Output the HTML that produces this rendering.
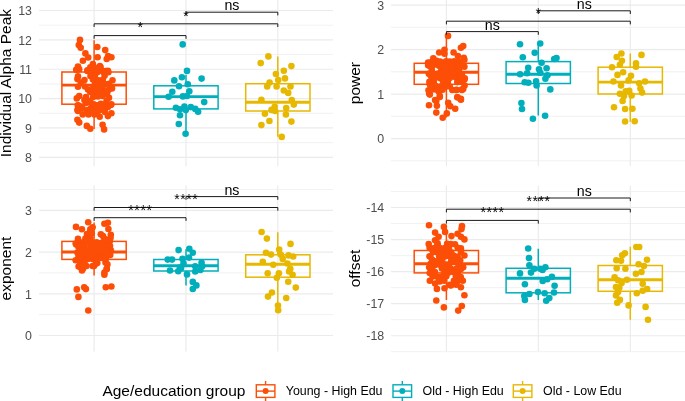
<!DOCTYPE html>
<html lang="en"><head><meta charset="utf-8"><title>Spectral parameters by age/education group</title>
<style>html,body{margin:0;padding:0;background:#fff}svg{display:block}text{font-family:"Liberation Sans", Arial, Helvetica, sans-serif}</style>
</head><body>
<svg width="685" height="401" viewBox="0 0 685 401">
<rect width="685" height="401" fill="#fff"/>
<g>
<path d="M39 142.6H333M39 113.3H333M39 83.9H333M39 54.5H333M39 25.2H333" stroke="#ebebeb" stroke-width="0.65" fill="none"/>
<path d="M39 157.3H333M39 127.9H333M39 98.6H333M39 69.2H333M39 39.9H333M39 10.5H333M94.1 0V166.2M186 0V166.2M277.8 0V166.2" stroke="#ebebeb" stroke-width="1.15" fill="none"/>
<text x="32" y="162" font-size="12.4" fill="#4d4d4d" text-anchor="end">8</text>
<text x="32" y="132.6" font-size="12.4" fill="#4d4d4d" text-anchor="end">9</text>
<text x="32" y="103.3" font-size="12.4" fill="#4d4d4d" text-anchor="end">10</text>
<text x="32" y="73.9" font-size="12.4" fill="#4d4d4d" text-anchor="end">11</text>
<text x="32" y="44.6" font-size="12.4" fill="#4d4d4d" text-anchor="end">12</text>
<text x="32" y="15.2" font-size="12.4" fill="#4d4d4d" text-anchor="end">13</text>
<text transform="translate(11.2 83.1) rotate(-90)" font-size="15.5" fill="#000" text-anchor="middle">Individual Alpha Peak</text>
<g stroke="#FC4E07" fill="none">
<path d="M94.1 40.3V72M94.1 104.2V129" stroke-width="1.5"/>
<rect x="61.9" y="72" width="64.3" height="32.2" stroke-width="1.5"/>
<path d="M61.9 85.1H126.2" stroke-width="2.9"/>
</g>
<g fill="#FC4E07">
<circle cx="80" cy="39.9" r="3.3"/><circle cx="78.8" cy="45" r="3.3"/><circle cx="80.7" cy="47.8" r="3.3"/><circle cx="97.3" cy="47" r="3.3"/><circle cx="105.2" cy="50.1" r="3.3"/><circle cx="85.4" cy="53.4" r="3.3"/><circle cx="88.2" cy="57.5" r="3.3"/><circle cx="97.6" cy="57.2" r="3.3"/><circle cx="108.1" cy="56" r="3.3"/><circle cx="111.4" cy="57.2" r="3.3"/><circle cx="106.7" cy="59" r="3.3"/><circle cx="82.9" cy="60.7" r="3.3"/><circle cx="92.9" cy="64" r="3.3"/><circle cx="99.9" cy="66.1" r="3.3"/><circle cx="78" cy="66.5" r="3.3"/><circle cx="76.2" cy="69.8" r="3.3"/><circle cx="79.2" cy="69.2" r="3.3"/><circle cx="87.4" cy="71" r="3.3"/><circle cx="92.6" cy="69.8" r="3.3"/><circle cx="100.8" cy="70.4" r="3.3"/><circle cx="105.5" cy="71" r="3.3"/><circle cx="108.4" cy="72.2" r="3.3"/><circle cx="78" cy="76.3" r="3.3"/><circle cx="76.8" cy="69.7" r="3.3"/><circle cx="87.4" cy="70.3" r="3.3"/><circle cx="107.9" cy="70.9" r="3.3"/><circle cx="77.4" cy="79.1" r="3.3"/><circle cx="80.9" cy="82.6" r="3.3"/><circle cx="78" cy="86.7" r="3.3"/><circle cx="112.5" cy="80.2" r="3.3"/><circle cx="109" cy="83.7" r="3.3"/><circle cx="112" cy="88.4" r="3.3"/><circle cx="88" cy="89.6" r="3.3"/><circle cx="79.2" cy="96" r="3.3"/><circle cx="76.8" cy="98.4" r="3.3"/><circle cx="109" cy="97.8" r="3.3"/><circle cx="84.4" cy="100.1" r="3.3"/><circle cx="111.4" cy="104.2" r="3.3"/><circle cx="78" cy="105.4" r="3.3"/><circle cx="81.5" cy="108.3" r="3.3"/><circle cx="77.4" cy="110" r="3.3"/><circle cx="107.9" cy="107" r="3.3"/><circle cx="78" cy="105.6" r="3.3"/><circle cx="82.1" cy="106.8" r="3.3"/><circle cx="78" cy="110.9" r="3.3"/><circle cx="82.7" cy="114.4" r="3.3"/><circle cx="88.5" cy="114.4" r="3.3"/><circle cx="94.4" cy="114.4" r="3.3"/><circle cx="99.7" cy="116.7" r="3.3"/><circle cx="111.4" cy="113.2" r="3.3"/><circle cx="107.9" cy="116.1" r="3.3"/><circle cx="110.8" cy="105" r="3.3"/><circle cx="106.7" cy="106.8" r="3.3"/><circle cx="77.4" cy="119.7" r="3.3"/><circle cx="79.2" cy="122.6" r="3.3"/><circle cx="86.8" cy="125.9" r="3.3"/><circle cx="90.3" cy="128.7" r="3.3"/><circle cx="102.6" cy="124.7" r="3.3"/><circle cx="104.1" cy="129.4" r="3.3"/><circle cx="89.1" cy="101.5" r="3.3"/><circle cx="95" cy="105" r="3.3"/><circle cx="100.8" cy="103.9" r="3.3"/><circle cx="96.2" cy="109.7" r="3.3"/><circle cx="91.5" cy="107.4" r="3.3"/><circle cx="100.8" cy="109.7" r="3.3"/><circle cx="104.4" cy="106.2" r="3.3"/><circle cx="85" cy="86.5" r="3.3"/><circle cx="84.5" cy="80" r="3.3"/><circle cx="108.5" cy="90" r="3.3"/><circle cx="107" cy="94" r="3.3"/><circle cx="86" cy="97" r="3.3"/><circle cx="86" cy="103" r="3.3"/><circle cx="106.5" cy="101" r="3.3"/><circle cx="87" cy="110" r="3.3"/><circle cx="105" cy="112" r="3.3"/><circle cx="90.3" cy="67.4" r="3.3"/><circle cx="96" cy="68" r="3.3"/><circle cx="100.6" cy="67.4" r="3.3"/><circle cx="93.8" cy="71.5" r="3.3"/><circle cx="97.2" cy="72.2" r="3.3"/><circle cx="103.2" cy="72" r="3.3"/><circle cx="90.5" cy="76.1" r="3.3"/><circle cx="94.9" cy="75.8" r="3.3"/><circle cx="104.6" cy="75.8" r="3.3"/><circle cx="92.9" cy="79.6" r="3.3"/><circle cx="98.4" cy="80.4" r="3.3"/><circle cx="102.8" cy="79.8" r="3.3"/><circle cx="95" cy="84.1" r="3.3"/><circle cx="100.6" cy="84.6" r="3.3"/><circle cx="105.6" cy="84.2" r="3.3"/><circle cx="92.9" cy="88.5" r="3.3"/><circle cx="98.4" cy="88.9" r="3.3"/><circle cx="102.6" cy="88.5" r="3.3"/><circle cx="90.2" cy="92.1" r="3.3"/><circle cx="96" cy="92.4" r="3.3"/><circle cx="99.8" cy="92.6" r="3.3"/><circle cx="105.2" cy="92.7" r="3.3"/><circle cx="93.2" cy="97" r="3.3"/><circle cx="97.9" cy="96.4" r="3.3"/><circle cx="102.6" cy="95.9" r="3.3"/><circle cx="90.2" cy="100.9" r="3.3"/><circle cx="93.7" cy="104.3" r="3.3"/><circle cx="97.9" cy="105.3" r="3.3"/><circle cx="102.7" cy="104.6" r="3.3"/><circle cx="90.5" cy="108.8" r="3.3"/><circle cx="96.2" cy="108.1" r="3.3"/><circle cx="100.6" cy="109.2" r="3.3"/><circle cx="93.3" cy="112.7" r="3.3"/><circle cx="97.3" cy="113.4" r="3.3"/>
</g>
<g stroke="#00AFBB" fill="none">
<path d="M186 74.8V85.8M186 108.9V133.7" stroke-width="1.5"/>
<rect x="153.8" y="85.8" width="64.3" height="23.1" stroke-width="1.5"/>
<path d="M153.8 96.6H218.1" stroke-width="2.9"/>
</g>
<g fill="#00AFBB">
<circle cx="182.7" cy="44.4" r="3.3"/><circle cx="187" cy="70.9" r="3.3"/><circle cx="181.9" cy="77.2" r="3.3"/><circle cx="201.6" cy="78.6" r="3.3"/><circle cx="174.3" cy="80.4" r="3.3"/><circle cx="187.8" cy="84.3" r="3.3"/><circle cx="179" cy="86.3" r="3.3"/><circle cx="172.3" cy="91.7" r="3.3"/><circle cx="189.3" cy="91.3" r="3.3"/><circle cx="168.6" cy="96.8" r="3.3"/><circle cx="182.9" cy="96.4" r="3.3"/><circle cx="187" cy="96" r="3.3"/><circle cx="204.2" cy="102.1" r="3.3"/><circle cx="175.9" cy="107.7" r="3.3"/><circle cx="180" cy="109.2" r="3.3"/><circle cx="184.4" cy="106.5" r="3.3"/><circle cx="185.8" cy="110.1" r="3.3"/><circle cx="190.8" cy="107.1" r="3.3"/><circle cx="195.2" cy="108.9" r="3.3"/><circle cx="198.1" cy="111.8" r="3.3"/><circle cx="180" cy="115.3" r="3.3"/><circle cx="178.8" cy="124" r="3.3"/><circle cx="185.6" cy="133.7" r="3.3"/>
</g>
<g stroke="#E7B800" fill="none">
<path d="M277.8 56.4V83.7M277.8 111V136.8" stroke-width="1.5"/>
<rect x="245.7" y="83.7" width="64.3" height="27.3" stroke-width="1.5"/>
<path d="M245.7 102.2H309.9" stroke-width="2.9"/>
</g>
<g fill="#E7B800">
<circle cx="268.4" cy="56.4" r="3.3"/><circle cx="260.7" cy="63.1" r="3.3"/><circle cx="291.4" cy="66.1" r="3.3"/><circle cx="283.8" cy="70.8" r="3.3"/><circle cx="275.9" cy="74" r="3.3"/><circle cx="285" cy="78.4" r="3.3"/><circle cx="278.2" cy="80.1" r="3.3"/><circle cx="269.6" cy="82.5" r="3.3"/><circle cx="267.2" cy="86.5" r="3.3"/><circle cx="276.6" cy="86.5" r="3.3"/><circle cx="290.5" cy="86.5" r="3.3"/><circle cx="283.8" cy="90.5" r="3.3"/><circle cx="288.2" cy="92.9" r="3.3"/><circle cx="261.4" cy="99.9" r="3.3"/><circle cx="291.8" cy="100.1" r="3.3"/><circle cx="293.8" cy="104.6" r="3.3"/><circle cx="274.7" cy="106.7" r="3.3"/><circle cx="271.5" cy="109.9" r="3.3"/><circle cx="275.1" cy="111" r="3.3"/><circle cx="286.2" cy="108.1" r="3.3"/><circle cx="264.9" cy="113.7" r="3.3"/><circle cx="285.9" cy="114.5" r="3.3"/><circle cx="269.4" cy="121" r="3.3"/><circle cx="291.4" cy="121.6" r="3.3"/><circle cx="261.4" cy="125.1" r="3.3"/><circle cx="281.7" cy="136.9" r="3.3"/>
</g>
<path d="M186 15.4V12.2H277.8V15.4" stroke="#1a1a1a" stroke-width="1" fill="none"/>
<text x="231.9" y="10.3" font-size="14.2" fill="#000" text-anchor="middle">ns</text>
<path d="M94.1 27V23.8H277.8V27" stroke="#1a1a1a" stroke-width="1" fill="none"/>
<text x="186.2" y="20.6" font-size="14" letter-spacing="0.58" fill="#000" text-anchor="middle">*</text>
<path d="M94.1 38.8V35.6H186V38.8" stroke="#1a1a1a" stroke-width="1" fill="none"/>
<text x="140.4" y="32.4" font-size="14" letter-spacing="0.58" fill="#000" text-anchor="middle">*</text>
</g>
<g>
<path d="M391 160.8H685M391 116.3H685M391 71.8H685M391 27.3H685" stroke="#ebebeb" stroke-width="0.65" fill="none"/>
<path d="M391 138.6H685M391 94.1H685M391 49.6H685M391 5.1H685M446.4 0V166.2M538.3 0V166.2M630.3 0V166.2" stroke="#ebebeb" stroke-width="1.15" fill="none"/>
<text x="384.2" y="143.3" font-size="12.4" fill="#4d4d4d" text-anchor="end">0</text>
<text x="384.2" y="98.8" font-size="12.4" fill="#4d4d4d" text-anchor="end">1</text>
<text x="384.2" y="54.3" font-size="12.4" fill="#4d4d4d" text-anchor="end">2</text>
<text x="384.2" y="9.8" font-size="12.4" fill="#4d4d4d" text-anchor="end">3</text>
<text transform="translate(359.6 83.1) rotate(-90)" font-size="15.5" fill="#000" text-anchor="middle">power</text>
<g stroke="#FC4E07" fill="none">
<path d="M446.4 36V63.3M446.4 84.3V117.5" stroke-width="1.5"/>
<rect x="414.2" y="63.3" width="64.3" height="21" stroke-width="1.5"/>
<path d="M414.2 72.3H478.6" stroke-width="2.9"/>
</g>
<g fill="#FC4E07">
<circle cx="448" cy="35.9" r="3.3"/><circle cx="463.2" cy="46.1" r="3.3"/><circle cx="460.9" cy="47.8" r="3.3"/><circle cx="444.5" cy="49.8" r="3.3"/><circle cx="439.2" cy="52.5" r="3.3"/><circle cx="453.6" cy="52.5" r="3.3"/><circle cx="433.3" cy="58.4" r="3.3"/><circle cx="463.8" cy="57.8" r="3.3"/><circle cx="457.9" cy="56" r="3.3"/><circle cx="428.1" cy="62.5" r="3.3"/><circle cx="444.5" cy="53.7" r="3.3"/><circle cx="428.1" cy="65" r="3.3"/><circle cx="430.4" cy="74.9" r="3.3"/><circle cx="429.8" cy="84.3" r="3.3"/><circle cx="429.2" cy="93.6" r="3.3"/><circle cx="438.6" cy="91.3" r="3.3"/><circle cx="439.8" cy="96" r="3.3"/><circle cx="464.4" cy="79.6" r="3.3"/><circle cx="463.2" cy="89" r="3.3"/><circle cx="457.4" cy="97.2" r="3.3"/><circle cx="460.9" cy="98.9" r="3.3"/><circle cx="435.1" cy="100.1" r="3.3"/><circle cx="464.4" cy="59.7" r="3.3"/><circle cx="464.4" cy="66.7" r="3.3"/><circle cx="429.8" cy="94.6" r="3.3"/><circle cx="439.2" cy="91.7" r="3.3"/><circle cx="439.8" cy="97" r="3.3"/><circle cx="457.4" cy="97.3" r="3.3"/><circle cx="460.9" cy="99.7" r="3.3"/><circle cx="462" cy="90" r="3.3"/><circle cx="456.2" cy="90" r="3.3"/><circle cx="436.3" cy="101.1" r="3.3"/><circle cx="429" cy="105.2" r="3.3"/><circle cx="436.9" cy="105.8" r="3.3"/><circle cx="448.2" cy="102.8" r="3.3"/><circle cx="450.3" cy="106.3" r="3.3"/><circle cx="455.2" cy="108.7" r="3.3"/><circle cx="436.3" cy="112.6" r="3.3"/><circle cx="446.8" cy="113.4" r="3.3"/><circle cx="442.7" cy="117.7" r="3.3"/><circle cx="431" cy="62.2" r="3.3"/><circle cx="436.6" cy="60.9" r="3.3"/><circle cx="440.1" cy="61.6" r="3.3"/><circle cx="446.1" cy="61.4" r="3.3"/><circle cx="449.8" cy="61.5" r="3.3"/><circle cx="454.2" cy="61.2" r="3.3"/><circle cx="459.5" cy="61.6" r="3.3"/><circle cx="428.6" cy="65.6" r="3.3"/><circle cx="433.4" cy="65" r="3.3"/><circle cx="438.9" cy="65.7" r="3.3"/><circle cx="443.3" cy="65.2" r="3.3"/><circle cx="448.5" cy="66.1" r="3.3"/><circle cx="452" cy="65.4" r="3.3"/><circle cx="457.5" cy="65.9" r="3.3"/><circle cx="462.5" cy="65.5" r="3.3"/><circle cx="431.8" cy="69.9" r="3.3"/><circle cx="441.3" cy="70.2" r="3.3"/><circle cx="445.5" cy="69.8" r="3.3"/><circle cx="449.5" cy="69.4" r="3.3"/><circle cx="455.3" cy="69.6" r="3.3"/><circle cx="459.1" cy="69.8" r="3.3"/><circle cx="428.8" cy="73.7" r="3.3"/><circle cx="433.7" cy="74.2" r="3.3"/><circle cx="438.4" cy="73.6" r="3.3"/><circle cx="443.1" cy="73.1" r="3.3"/><circle cx="447.2" cy="74.1" r="3.3"/><circle cx="453.2" cy="73.9" r="3.3"/><circle cx="457.1" cy="73.3" r="3.3"/><circle cx="461.9" cy="74.5" r="3.3"/><circle cx="431.7" cy="77.9" r="3.3"/><circle cx="436.6" cy="77.5" r="3.3"/><circle cx="440.8" cy="78.5" r="3.3"/><circle cx="445.6" cy="77.8" r="3.3"/><circle cx="449.8" cy="77.9" r="3.3"/><circle cx="455.5" cy="77.2" r="3.3"/><circle cx="459.9" cy="78.3" r="3.3"/><circle cx="464.8" cy="78.2" r="3.3"/><circle cx="429.4" cy="81.9" r="3.3"/><circle cx="433.8" cy="81.8" r="3.3"/><circle cx="443.2" cy="81.5" r="3.3"/><circle cx="447.8" cy="81.9" r="3.3"/><circle cx="457.3" cy="82.1" r="3.3"/><circle cx="462.1" cy="81.9" r="3.3"/><circle cx="430.7" cy="85.6" r="3.3"/><circle cx="435.6" cy="86.1" r="3.3"/><circle cx="441.3" cy="86.4" r="3.3"/><circle cx="445.9" cy="86.4" r="3.3"/><circle cx="449.8" cy="86.5" r="3.3"/><circle cx="464.6" cy="85.6" r="3.3"/><circle cx="428.5" cy="90.2" r="3.3"/><circle cx="433.5" cy="89.5" r="3.3"/><circle cx="437.9" cy="90.1" r="3.3"/><circle cx="442.6" cy="89.7" r="3.3"/><circle cx="452.3" cy="90" r="3.3"/><circle cx="456.5" cy="89.9" r="3.3"/><circle cx="461.8" cy="89.6" r="3.3"/>
</g>
<g stroke="#00AFBB" fill="none">
<path d="M538.3 43.3V61.6M538.3 83.5V115.5" stroke-width="1.5"/>
<rect x="506.1" y="61.6" width="64.3" height="21.9" stroke-width="1.5"/>
<path d="M506.1 74.3H570.4" stroke-width="2.9"/>
</g>
<g fill="#00AFBB">
<circle cx="520" cy="44.3" r="3.3"/><circle cx="540.2" cy="43.5" r="3.3"/><circle cx="534.7" cy="52.8" r="3.3"/><circle cx="522.8" cy="57.2" r="3.3"/><circle cx="556.5" cy="58.1" r="3.3"/><circle cx="554.2" cy="59" r="3.3"/><circle cx="541.6" cy="62.8" r="3.3"/><circle cx="528.2" cy="67.7" r="3.3"/><circle cx="539" cy="69.3" r="3.3"/><circle cx="546.6" cy="68.2" r="3.3"/><circle cx="520.1" cy="74.3" r="3.3"/><circle cx="527.1" cy="73.3" r="3.3"/><circle cx="540.3" cy="72.8" r="3.3"/><circle cx="547.5" cy="75.2" r="3.3"/><circle cx="545.4" cy="78.8" r="3.3"/><circle cx="524.7" cy="82.3" r="3.3"/><circle cx="528.4" cy="82.8" r="3.3"/><circle cx="536.1" cy="81.4" r="3.3"/><circle cx="536.6" cy="85.5" r="3.3"/><circle cx="550.3" cy="89.4" r="3.3"/><circle cx="521.4" cy="103" r="3.3"/><circle cx="522" cy="109" r="3.3"/><circle cx="532.9" cy="118.7" r="3.3"/><circle cx="545.1" cy="115.8" r="3.3"/>
</g>
<g stroke="#E7B800" fill="none">
<path d="M630.3 53.5V67.2M630.3 94V121.7" stroke-width="1.5"/>
<rect x="598.1" y="67.2" width="64.3" height="26.8" stroke-width="1.5"/>
<path d="M598.1 82.1H662.4" stroke-width="2.9"/>
</g>
<g fill="#E7B800">
<circle cx="621.4" cy="53.5" r="3.3"/><circle cx="616.7" cy="57" r="3.3"/><circle cx="641.5" cy="54.9" r="3.3"/><circle cx="621.9" cy="60.8" r="3.3"/><circle cx="619.9" cy="64.8" r="3.3"/><circle cx="636" cy="63.4" r="3.3"/><circle cx="636" cy="66.7" r="3.3"/><circle cx="612" cy="67.2" r="3.3"/><circle cx="623.1" cy="72.2" r="3.3"/><circle cx="617.5" cy="74.9" r="3.3"/><circle cx="631" cy="75.7" r="3.3"/><circle cx="613.4" cy="81.5" r="3.3"/><circle cx="628.6" cy="80.4" r="3.3"/><circle cx="645" cy="81.5" r="3.3"/><circle cx="639.2" cy="83.2" r="3.3"/><circle cx="621" cy="85.5" r="3.3"/><circle cx="640.4" cy="88.5" r="3.3"/><circle cx="642.1" cy="92.6" r="3.3"/><circle cx="625.7" cy="91.4" r="3.3"/><circle cx="629.2" cy="90.8" r="3.3"/><circle cx="619.9" cy="93.7" r="3.3"/><circle cx="624" cy="96.1" r="3.3"/><circle cx="631.6" cy="95.5" r="3.3"/><circle cx="622.6" cy="101" r="3.3"/><circle cx="614" cy="107.2" r="3.3"/><circle cx="625.1" cy="109" r="3.3"/><circle cx="632.4" cy="108.7" r="3.3"/><circle cx="625.1" cy="121.5" r="3.3"/><circle cx="634.7" cy="121.3" r="3.3"/>
</g>
<path d="M538.3 14V10.8H630.3V14" stroke="#1a1a1a" stroke-width="1" fill="none"/>
<text x="584.3" y="8.9" font-size="14.2" fill="#000" text-anchor="middle">ns</text>
<path d="M446.4 24.4V21.2H630.3V24.4" stroke="#1a1a1a" stroke-width="1" fill="none"/>
<text x="538.6" y="18" font-size="14" letter-spacing="0.58" fill="#000" text-anchor="middle">*</text>
<path d="M446.4 34.8V31.6H538.3V34.8" stroke="#1a1a1a" stroke-width="1" fill="none"/>
<text x="492.3" y="29.7" font-size="14.2" fill="#000" text-anchor="middle">ns</text>
</g>
<g>
<path d="M39 314.6H333M39 272.9H333M39 231.2H333M39 189.5H333" stroke="#ebebeb" stroke-width="0.65" fill="none"/>
<path d="M39 335.5H333M39 293.8H333M39 252.1H333M39 210.4H333M94.1 185.4V351.6M186 185.4V351.6M277.8 185.4V351.6" stroke="#ebebeb" stroke-width="1.15" fill="none"/>
<text x="32" y="340.2" font-size="12.4" fill="#4d4d4d" text-anchor="end">0</text>
<text x="32" y="298.5" font-size="12.4" fill="#4d4d4d" text-anchor="end">1</text>
<text x="32" y="256.8" font-size="12.4" fill="#4d4d4d" text-anchor="end">2</text>
<text x="32" y="215.1" font-size="12.4" fill="#4d4d4d" text-anchor="end">3</text>
<text transform="translate(11.2 268.5) rotate(-90)" font-size="15.5" fill="#000" text-anchor="middle">exponent</text>
<g stroke="#FC4E07" fill="none">
<path d="M94.1 222.5V241.4M94.1 259.4V275.5" stroke-width="1.5"/>
<rect x="61.9" y="241.4" width="64.3" height="18" stroke-width="1.5"/>
<path d="M61.9 252H126.2" stroke-width="2.9"/>
</g>
<g fill="#FC4E07">
<circle cx="88.2" cy="222.3" r="3.3"/><circle cx="76" cy="226.9" r="3.3"/><circle cx="81.9" cy="229.3" r="3.3"/><circle cx="107.9" cy="222.8" r="3.3"/><circle cx="104.4" cy="223.7" r="3.3"/><circle cx="108.4" cy="229" r="3.3"/><circle cx="100.8" cy="234.2" r="3.3"/><circle cx="110.8" cy="234.8" r="3.3"/><circle cx="92.6" cy="227.2" r="3.3"/><circle cx="90.3" cy="231.3" r="3.3"/><circle cx="78" cy="238.9" r="3.3"/><circle cx="75.7" cy="243.6" r="3.3"/><circle cx="109.6" cy="241.3" r="3.3"/><circle cx="76.2" cy="244.4" r="3.3"/><circle cx="77.4" cy="252.6" r="3.3"/><circle cx="75.7" cy="260.2" r="3.3"/><circle cx="78.6" cy="266.6" r="3.3"/><circle cx="82.7" cy="269" r="3.3"/><circle cx="92.6" cy="266" r="3.3"/><circle cx="97.3" cy="263.1" r="3.3"/><circle cx="105.5" cy="262.5" r="3.3"/><circle cx="106.7" cy="269" r="3.3"/><circle cx="104.4" cy="274.8" r="3.3"/><circle cx="110.8" cy="250.2" r="3.3"/><circle cx="110.2" cy="254.9" r="3.3"/><circle cx="109.6" cy="240.9" r="3.3"/><circle cx="76.8" cy="289.4" r="3.3"/><circle cx="84.2" cy="287.3" r="3.3"/><circle cx="85.9" cy="289.1" r="3.3"/><circle cx="105.8" cy="287.3" r="3.3"/><circle cx="111.4" cy="286.5" r="3.3"/><circle cx="78.4" cy="296.9" r="3.3"/><circle cx="88.3" cy="310.5" r="3.3"/><circle cx="78.5" cy="247" r="3.3"/><circle cx="78.5" cy="256" r="3.3"/><circle cx="80" cy="251" r="3.3"/><circle cx="79.5" cy="260" r="3.3"/><circle cx="81" cy="243" r="3.3"/><circle cx="83.5" cy="267.5" r="3.3"/><circle cx="80" cy="265" r="3.3"/><circle cx="82" cy="270.5" r="3.3"/><circle cx="86.5" cy="266" r="3.3"/><circle cx="106" cy="258.5" r="3.3"/><circle cx="107.4" cy="264.4" r="3.3"/><circle cx="106.7" cy="269" r="3.3"/><circle cx="104.4" cy="272.6" r="3.3"/><circle cx="110" cy="246" r="3.3"/><circle cx="110.5" cy="238" r="3.3"/><circle cx="106" cy="240" r="3.3"/><circle cx="103" cy="236" r="3.3"/><circle cx="94" cy="266" r="3.3"/><circle cx="96" cy="263.5" r="3.3"/><circle cx="90.3" cy="229.4" r="3.3"/><circle cx="87" cy="234.1" r="3.3"/><circle cx="91.8" cy="233.5" r="3.3"/><circle cx="85.4" cy="238.5" r="3.3"/><circle cx="90.4" cy="238.1" r="3.3"/><circle cx="104.4" cy="238.7" r="3.3"/><circle cx="83.1" cy="242.2" r="3.3"/><circle cx="86.9" cy="242.3" r="3.3"/><circle cx="92.4" cy="242.5" r="3.3"/><circle cx="96.6" cy="242.2" r="3.3"/><circle cx="101.5" cy="242.7" r="3.3"/><circle cx="106.2" cy="242.1" r="3.3"/><circle cx="80.3" cy="245.7" r="3.3"/><circle cx="84.4" cy="246.6" r="3.3"/><circle cx="90.4" cy="246.5" r="3.3"/><circle cx="94.3" cy="245.9" r="3.3"/><circle cx="99.2" cy="247" r="3.3"/><circle cx="104.2" cy="246.4" r="3.3"/><circle cx="109.1" cy="246" r="3.3"/><circle cx="82.8" cy="250.4" r="3.3"/><circle cx="87.1" cy="250.5" r="3.3"/><circle cx="92.7" cy="249.7" r="3.3"/><circle cx="97.2" cy="250.9" r="3.3"/><circle cx="102" cy="250.8" r="3.3"/><circle cx="106.6" cy="250.4" r="3.3"/><circle cx="80.4" cy="254.4" r="3.3"/><circle cx="84.4" cy="255" r="3.3"/><circle cx="89.8" cy="254.1" r="3.3"/><circle cx="94.5" cy="254.5" r="3.3"/><circle cx="98.9" cy="254.3" r="3.3"/><circle cx="103.9" cy="254.7" r="3.3"/><circle cx="108.7" cy="254.4" r="3.3"/><circle cx="82.2" cy="258.7" r="3.3"/><circle cx="87.9" cy="259" r="3.3"/><circle cx="92.5" cy="259" r="3.3"/><circle cx="96.5" cy="259" r="3.3"/><circle cx="101.7" cy="258" r="3.3"/><circle cx="105.5" cy="257.9" r="3.3"/><circle cx="84.5" cy="262.8" r="3.3"/>
</g>
<g stroke="#00AFBB" fill="none">
<path d="M186 249.3V259.5M186 271V285.4" stroke-width="1.5"/>
<rect x="153.8" y="259.5" width="64.3" height="11.5" stroke-width="1.5"/>
<path d="M153.8 265.7H218.1" stroke-width="2.9"/>
</g>
<g fill="#00AFBB">
<circle cx="178.6" cy="250.1" r="3.3"/><circle cx="189.3" cy="248.7" r="3.3"/><circle cx="192.8" cy="252.8" r="3.3"/><circle cx="189" cy="257.6" r="3.3"/><circle cx="167.7" cy="259.6" r="3.3"/><circle cx="172" cy="259.6" r="3.3"/><circle cx="182.5" cy="258.7" r="3.3"/><circle cx="183.5" cy="263.4" r="3.3"/><circle cx="201.6" cy="262.8" r="3.3"/><circle cx="202.2" cy="266.3" r="3.3"/><circle cx="180" cy="267.5" r="3.3"/><circle cx="170" cy="270.5" r="3.3"/><circle cx="178.2" cy="271.2" r="3.3"/><circle cx="195.2" cy="271.5" r="3.3"/><circle cx="200.4" cy="270" r="3.3"/><circle cx="187" cy="274.4" r="3.3"/><circle cx="195.2" cy="266.3" r="3.3"/><circle cx="181.1" cy="267.9" r="3.3"/><circle cx="192.8" cy="281.9" r="3.3"/><circle cx="196.4" cy="285.4" r="3.3"/><circle cx="192.8" cy="289" r="3.3"/>
</g>
<g stroke="#E7B800" fill="none">
<path d="M277.8 232.3V254.8M277.8 277.2V305.5" stroke-width="1.5"/>
<rect x="245.7" y="254.8" width="64.3" height="22.4" stroke-width="1.5"/>
<path d="M245.7 264.3H309.9" stroke-width="2.9"/>
</g>
<g fill="#E7B800">
<circle cx="261.6" cy="232" r="3.3"/><circle cx="266.9" cy="238.6" r="3.3"/><circle cx="290.5" cy="243.9" r="3.3"/><circle cx="279.2" cy="249.5" r="3.3"/><circle cx="266" cy="252.7" r="3.3"/><circle cx="271" cy="254.6" r="3.3"/><circle cx="280.9" cy="254.8" r="3.3"/><circle cx="288.5" cy="255.4" r="3.3"/><circle cx="293.2" cy="256.5" r="3.3"/><circle cx="282.7" cy="258.9" r="3.3"/><circle cx="262.8" cy="261.8" r="3.3"/><circle cx="273.3" cy="264.7" r="3.3"/><circle cx="287.4" cy="263.5" r="3.3"/><circle cx="290.3" cy="268.8" r="3.3"/><circle cx="267.7" cy="273.2" r="3.3"/><circle cx="278.9" cy="273.2" r="3.3"/><circle cx="276.8" cy="277.8" r="3.3"/><circle cx="289.1" cy="271.4" r="3.3"/><circle cx="292.6" cy="274.7" r="3.3"/><circle cx="288.2" cy="281.7" r="3.3"/><circle cx="295.8" cy="287.6" r="3.3"/><circle cx="271.9" cy="292.5" r="3.3"/><circle cx="268" cy="296.6" r="3.3"/><circle cx="286.2" cy="298" r="3.3"/><circle cx="278" cy="305.5" r="3.3"/><circle cx="278.2" cy="310.2" r="3.3"/>
</g>
<path d="M186 199.8V196.6H277.8V199.8" stroke="#1a1a1a" stroke-width="1" fill="none"/>
<text x="231.9" y="194.7" font-size="14.2" fill="#000" text-anchor="middle">ns</text>
<path d="M94.1 210.7V207.5H277.8V210.7" stroke="#1a1a1a" stroke-width="1" fill="none"/>
<text x="186.2" y="204.3" font-size="14" letter-spacing="0.58" fill="#000" text-anchor="middle">****</text>
<path d="M94.1 220.9V217.7H186V220.9" stroke="#1a1a1a" stroke-width="1" fill="none"/>
<text x="140.4" y="214.5" font-size="14" letter-spacing="0.58" fill="#000" text-anchor="middle">****</text>
</g>
<g>
<path d="M391 351.7H685M391 319.7H685M391 287.6H685M391 255.6H685M391 223.5H685M391 191.5H685" stroke="#ebebeb" stroke-width="0.65" fill="none"/>
<path d="M391 335.7H685M391 303.6H685M391 271.6H685M391 239.6H685M391 207.5H685M446.4 185.4V351.6M538.3 185.4V351.6M630.3 185.4V351.6" stroke="#ebebeb" stroke-width="1.15" fill="none"/>
<text x="384.2" y="340.4" font-size="12.4" fill="#4d4d4d" text-anchor="end">-18</text>
<text x="384.2" y="308.3" font-size="12.4" fill="#4d4d4d" text-anchor="end">-17</text>
<text x="384.2" y="276.3" font-size="12.4" fill="#4d4d4d" text-anchor="end">-16</text>
<text x="384.2" y="244.2" font-size="12.4" fill="#4d4d4d" text-anchor="end">-15</text>
<text x="384.2" y="212.2" font-size="12.4" fill="#4d4d4d" text-anchor="end">-14</text>
<text transform="translate(359.6 268.5) rotate(-90)" font-size="15.5" fill="#000" text-anchor="middle">offset</text>
<g stroke="#FC4E07" fill="none">
<path d="M446.4 229V250.5M446.4 272.9V300.1" stroke-width="1.5"/>
<rect x="414.2" y="250.5" width="64.3" height="22.4" stroke-width="1.5"/>
<path d="M414.2 263.7H478.6" stroke-width="2.9"/>
</g>
<g fill="#FC4E07">
<circle cx="429" cy="225.2" r="3.3"/><circle cx="443.9" cy="226.9" r="3.3"/><circle cx="462" cy="226.1" r="3.3"/><circle cx="461.5" cy="229.1" r="3.3"/><circle cx="435.1" cy="232.6" r="3.3"/><circle cx="445.1" cy="232" r="3.3"/><circle cx="457.6" cy="233.7" r="3.3"/><circle cx="451.5" cy="236.1" r="3.3"/><circle cx="438.6" cy="236.7" r="3.3"/><circle cx="460.9" cy="236.7" r="3.3"/><circle cx="464.4" cy="239.4" r="3.3"/><circle cx="435.1" cy="240.2" r="3.3"/><circle cx="428.7" cy="244" r="3.3"/><circle cx="455" cy="244.3" r="3.3"/><circle cx="460.9" cy="248.4" r="3.3"/><circle cx="437.4" cy="245.4" r="3.3"/><circle cx="444.5" cy="248.4" r="3.3"/><circle cx="431.6" cy="249" r="3.3"/><circle cx="429.8" cy="280.7" r="3.3"/><circle cx="435.1" cy="283.6" r="3.3"/><circle cx="436.9" cy="288.9" r="3.3"/><circle cx="444.5" cy="288.3" r="3.3"/><circle cx="460.9" cy="287.2" r="3.3"/><circle cx="460.9" cy="279" r="3.3"/><circle cx="463.2" cy="267.2" r="3.3"/><circle cx="464.4" cy="255.5" r="3.3"/><circle cx="429.2" cy="267.2" r="3.3"/><circle cx="430.4" cy="256.7" r="3.3"/><circle cx="431.6" cy="273.1" r="3.3"/><circle cx="439.8" cy="281.4" r="3.3"/><circle cx="449.7" cy="284.9" r="3.3"/><circle cx="456.2" cy="283.1" r="3.3"/><circle cx="464.4" cy="295.2" r="3.3"/><circle cx="436.3" cy="300.5" r="3.3"/><circle cx="443.9" cy="307.4" r="3.3"/><circle cx="461.8" cy="306" r="3.3"/><circle cx="458.2" cy="310.6" r="3.3"/><circle cx="437.6" cy="243.4" r="3.3"/><circle cx="447.1" cy="243.9" r="3.3"/><circle cx="450.8" cy="244" r="3.3"/><circle cx="429.6" cy="247.8" r="3.3"/><circle cx="434.3" cy="248.1" r="3.3"/><circle cx="439.1" cy="247.5" r="3.3"/><circle cx="444.6" cy="248.2" r="3.3"/><circle cx="449" cy="247.7" r="3.3"/><circle cx="457.7" cy="247.9" r="3.3"/><circle cx="433" cy="252.1" r="3.3"/><circle cx="437.5" cy="252.4" r="3.3"/><circle cx="441.5" cy="252.3" r="3.3"/><circle cx="447" cy="252.7" r="3.3"/><circle cx="451.2" cy="252.3" r="3.3"/><circle cx="461" cy="252.1" r="3.3"/><circle cx="429.5" cy="256.3" r="3.3"/><circle cx="439.2" cy="256.2" r="3.3"/><circle cx="444.1" cy="256.7" r="3.3"/><circle cx="448.8" cy="256.1" r="3.3"/><circle cx="453.5" cy="255.6" r="3.3"/><circle cx="457.6" cy="256.6" r="3.3"/><circle cx="432.2" cy="259.9" r="3.3"/><circle cx="437.1" cy="261" r="3.3"/><circle cx="442.1" cy="260.4" r="3.3"/><circle cx="451.2" cy="261" r="3.3"/><circle cx="456" cy="260.3" r="3.3"/><circle cx="460.2" cy="260.4" r="3.3"/><circle cx="430.6" cy="263.7" r="3.3"/><circle cx="435.1" cy="264.9" r="3.3"/><circle cx="439.9" cy="264.8" r="3.3"/><circle cx="444.5" cy="264.4" r="3.3"/><circle cx="448.9" cy="264.3" r="3.3"/><circle cx="458.3" cy="264" r="3.3"/><circle cx="432.1" cy="268.3" r="3.3"/><circle cx="441.9" cy="268.4" r="3.3"/><circle cx="445.8" cy="268.1" r="3.3"/><circle cx="450.7" cy="268.6" r="3.3"/><circle cx="456.4" cy="268.9" r="3.3"/><circle cx="461" cy="268.9" r="3.3"/><circle cx="429.7" cy="273" r="3.3"/><circle cx="434.9" cy="272" r="3.3"/><circle cx="444.5" cy="272.2" r="3.3"/><circle cx="448.3" cy="272.7" r="3.3"/><circle cx="453.3" cy="272" r="3.3"/><circle cx="457.7" cy="272.6" r="3.3"/><circle cx="432.6" cy="276.6" r="3.3"/><circle cx="436.8" cy="276.6" r="3.3"/><circle cx="441.1" cy="276.5" r="3.3"/><circle cx="446.3" cy="276.2" r="3.3"/><circle cx="455.9" cy="276.2" r="3.3"/><circle cx="460.7" cy="277.1" r="3.3"/><circle cx="438.9" cy="281" r="3.3"/><circle cx="444.3" cy="280.8" r="3.3"/><circle cx="453.9" cy="280.7" r="3.3"/><circle cx="457.8" cy="280.9" r="3.3"/><circle cx="462.8" cy="280.8" r="3.3"/><circle cx="450.9" cy="285.4" r="3.3"/><circle cx="456.2" cy="284.7" r="3.3"/>
</g>
<g stroke="#00AFBB" fill="none">
<path d="M538.3 248.8V268.3M538.3 292.8V299.9" stroke-width="1.5"/>
<rect x="506.1" y="268.3" width="64.3" height="24.5" stroke-width="1.5"/>
<path d="M506.1 278.2H570.4" stroke-width="2.9"/>
</g>
<g fill="#00AFBB">
<circle cx="528.2" cy="248.5" r="3.3"/><circle cx="529" cy="258.1" r="3.3"/><circle cx="529.4" cy="265.2" r="3.3"/><circle cx="534.3" cy="268.7" r="3.3"/><circle cx="540.2" cy="268.7" r="3.3"/><circle cx="545.4" cy="267.2" r="3.3"/><circle cx="542.5" cy="269.9" r="3.3"/><circle cx="531" cy="272.6" r="3.3"/><circle cx="520" cy="273.4" r="3.3"/><circle cx="551.9" cy="276.9" r="3.3"/><circle cx="547.2" cy="279.2" r="3.3"/><circle cx="542.7" cy="281" r="3.3"/><circle cx="524.9" cy="284.3" r="3.3"/><circle cx="554.6" cy="285.7" r="3.3"/><circle cx="554" cy="292.5" r="3.3"/><circle cx="538" cy="292" r="3.3"/><circle cx="544.6" cy="293.2" r="3.3"/><circle cx="529.4" cy="294" r="3.3"/><circle cx="524.3" cy="296" r="3.3"/><circle cx="524.9" cy="299.9" r="3.3"/><circle cx="549.3" cy="298.1" r="3.3"/><circle cx="546.2" cy="300.7" r="3.3"/>
</g>
<g stroke="#E7B800" fill="none">
<path d="M630.3 246.8V265.5M630.3 291.3V319.8" stroke-width="1.5"/>
<rect x="598.1" y="265.5" width="64.3" height="25.8" stroke-width="1.5"/>
<path d="M598.1 279.8H662.4" stroke-width="2.9"/>
</g>
<g fill="#E7B800">
<circle cx="636.3" cy="247" r="3.3"/><circle cx="639.2" cy="247" r="3.3"/><circle cx="624.9" cy="253.2" r="3.3"/><circle cx="622.2" cy="255.3" r="3.3"/><circle cx="616.3" cy="260.2" r="3.3"/><circle cx="621" cy="260.8" r="3.3"/><circle cx="647" cy="259.7" r="3.3"/><circle cx="638.6" cy="264.3" r="3.3"/><circle cx="643.9" cy="266.1" r="3.3"/><circle cx="616.7" cy="268.2" r="3.3"/><circle cx="625.4" cy="268.7" r="3.3"/><circle cx="641.5" cy="272" r="3.3"/><circle cx="635.9" cy="273.7" r="3.3"/><circle cx="614.6" cy="277.2" r="3.3"/><circle cx="618.1" cy="280.2" r="3.3"/><circle cx="626.9" cy="279.8" r="3.3"/><circle cx="621.6" cy="283.1" r="3.3"/><circle cx="642.7" cy="283.7" r="3.3"/><circle cx="616" cy="287" r="3.3"/><circle cx="619.3" cy="287.8" r="3.3"/><circle cx="647.1" cy="289" r="3.3"/><circle cx="642.7" cy="290.7" r="3.3"/><circle cx="636.8" cy="293.3" r="3.3"/><circle cx="618.1" cy="291.9" r="3.3"/><circle cx="616" cy="295.4" r="3.3"/><circle cx="619.9" cy="299.9" r="3.3"/><circle cx="617.2" cy="302.7" r="3.3"/><circle cx="628.6" cy="305.4" r="3.3"/><circle cx="645.6" cy="306.9" r="3.3"/><circle cx="648" cy="319.8" r="3.3"/>
</g>
<path d="M538.3 201.2V198H630.3V201.2" stroke="#1a1a1a" stroke-width="1" fill="none"/>
<text x="584.3" y="196.1" font-size="14.2" fill="#000" text-anchor="middle">ns</text>
<path d="M446.4 212.4V209.2H630.3V212.4" stroke="#1a1a1a" stroke-width="1" fill="none"/>
<text x="538.6" y="206" font-size="14" letter-spacing="0.58" fill="#000" text-anchor="middle">****</text>
<path d="M446.4 223.6V220.4H538.3V223.6" stroke="#1a1a1a" stroke-width="1" fill="none"/>
<text x="492.6" y="217.2" font-size="14" letter-spacing="0.58" fill="#000" text-anchor="middle">****</text>
</g>
<g>
<text x="102.4" y="396.4" font-size="15.5" fill="#000">Age/education group</text>
<g stroke="#FC4E07" stroke-width="1.4" fill="none">
<path d="M265.6 381V384.8M265.6 397.4V401.2"/>
<rect x="256.3" y="384.8" width="18.6" height="12.6"/>
<path d="M256.3 391.1H274.9"/>
</g>
<circle cx="265.6" cy="391.1" r="3" fill="#FC4E07"/>
<text x="285.8" y="395.3" font-size="12.4" fill="#000">Young - High Edu</text>
<g stroke="#00AFBB" stroke-width="1.4" fill="none">
<path d="M402.3 381V384.8M402.3 397.4V401.2"/>
<rect x="393" y="384.8" width="18.6" height="12.6"/>
<path d="M393 391.1H411.6"/>
</g>
<circle cx="402.3" cy="391.1" r="3" fill="#00AFBB"/>
<text x="422.5" y="395.3" font-size="12.4" fill="#000">Old - High Edu</text>
<g stroke="#E7B800" stroke-width="1.4" fill="none">
<path d="M522.6 381V384.8M522.6 397.4V401.2"/>
<rect x="513.3" y="384.8" width="18.6" height="12.6"/>
<path d="M513.3 391.1H531.9"/>
</g>
<circle cx="522.6" cy="391.1" r="3" fill="#E7B800"/>
<text x="543.1" y="395.3" font-size="12.4" fill="#000">Old - Low Edu</text>
</g>
</svg>
</body></html>
